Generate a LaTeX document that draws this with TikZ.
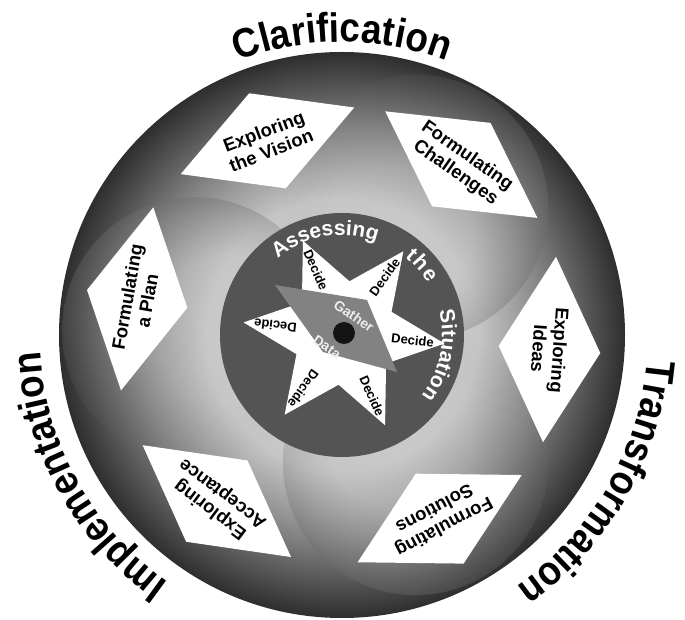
\documentclass[tikz,border=0pt]{standalone}
\usepackage{fontspec}
\setmainfont{Liberation Sans}
\newfontfamily\ringfamily[FakeStretch=0.9]{Liberation Sans}
\usetikzlibrary{decorations.text,shapes.geometric,fadings}
\definecolor{rimdark}{HTML}{2E2E2E}
\definecolor{midgray}{HTML}{858585}
\definecolor{lightgray}{HTML}{C6C6C6}
\definecolor{centergray}{HTML}{D4D4D4}
\definecolor{swirledge}{HTML}{3A3A3A}
\definecolor{hubdark}{HTML}{545454}
\definecolor{gathergray}{HTML}{828282}
\definecolor{gathertext}{HTML}{EEEEEE}
\pgfdeclareradialshading{bigshade}{\pgfpoint{0bp}{0bp}}{color(0bp)=(centergray); color(12bp)=(lightgray); color(18bp)=(midgray); color(25bp)=(rimdark); color(50bp)=(rimdark)}
\pgfdeclareradialshading{swirlshade}{\pgfpoint{9bp}{0bp}}{color(0bp)=(centergray); color(14bp)=(lightgray); color(34bp)=(swirledge); color(50bp)=(swirledge)}
\tikzfading[name=swirlfade, top color=transparent!0, bottom color=transparent!100]
\newcommand{\boxfont}{\bfseries\fontsize{18.5}{20.5}\selectfont}
\newcommand{\decfont}{\bfseries\fontsize{13}{13}\selectfont}
\newcommand{\gatherfont}{\bfseries\fontsize{14}{14}\selectfont}
\newcommand{\hubfont}{\bfseries\fontsize{21}{21}\selectfont}
\newcommand{\ringfont}{\ringfamily\bfseries\fontsize{41}{41}\selectfont}
\tikzset{
  stage/.style={diamond, fill=white, draw=none, minimum width=186pt, minimum height=102pt, shape aspect=1.82, inner sep=0pt, align=center, font=\boxfont, text=black},
  decidelabel/.style={font=\decfont, text=black, inner sep=0pt},
  gatherlabel/.style={font=\gatherfont, text=gathertext, inner sep=0pt},
  swirl/.style={shading=swirlshade, path fading=swirlfade, opacity=0.55},
}
\begin{document}
\begin{tikzpicture}[x=1pt,y=1pt]
\useasboundingbox (-342,-285) rectangle (343,335);
\coordinate (C) at (0,0);
% outer disc
\shade[shading=bigshade] (C) circle (283);
\begin{scope}
  \clip (C) circle (283);
  \shade[swirl, shading angle=0, fading angle=20] (178:147) circle (133);
  \shade[swirl, shading angle=240, fading angle=-100] (60:147) circle (133);
  \shade[swirl, shading angle=120, fading angle=160] (-60:147) circle (133);
\end{scope}
% six stages
\node[stage, rotate=21] (vision) at (111:208) {Exploring\\the Vision};
\node[stage, rotate=-35] (challenges) at (55:208) {Formulating\\Challenges};
\node[stage, rotate=-94] (ideas) at (-4:208) {Exploring\\Ideas};
\node[stage, rotate=-152] (solutions) at (-62:208) {Formulating\\Solutions};
\node[stage, rotate=-217] (acceptance) at (-127:208) {Exploring\\Acceptance};
\node[stage, rotate=80] (plan) at (170:208) {Formulating\\a Plan};
% hub
\fill[hubdark] (C) circle (122);
\begin{scope}[shift={(2,2)}]
  \fill[white] (54:101) -- (84:52) -- (114:101) -- (144:52) -- (174:101) -- (204:52)
    -- (234:101) -- (264:52) -- (294:101) -- (324:52) -- (354:101) -- (24:52) -- cycle;
  \node[decidelabel, rotate=-66] (d1) at (114:69) {Decide};
  \node[decidelabel, rotate=54] (d2) at (54:69) {Decide};
  \node[decidelabel, rotate=-6] (d3) at (-6:69) {Decide};
  \node[decidelabel, rotate=-66] (d4) at (-66:69) {Decide};
  \node[decidelabel, rotate=-126] (d5) at (-126:69) {Decide};
  \node[decidelabel, rotate=174] (d6) at (174:69) {Decide};
\end{scope}
\fill[gathergray] (-67,50) -- (25,35) -- (55,-37) -- (-19,-17) -- cycle;
\node[gatherlabel, rotate=-35] (gather) at (12,19) {Gather};
\node[gatherlabel, rotate=-35] (data) at (-15,-12) {Data};
\fill[black!92] (2,2) circle (11);
% hub title
\path[decorate, decoration={text along path, text={|\hubfont|Assessing}, text color=white, text align={fit to path}}]
  (130:100) arc[start angle=130, end angle=71, radius=100];
\path[decorate, decoration={text along path, text={|\hubfont|the}, text color=white, text align={fit to path}}]
  (51:100) arc[start angle=51, end angle=31, radius=100];
\path[decorate, decoration={text along path, text={|\hubfont|Situation}, text color=white, text align={fit to path}}]
  (14:100) arc[start angle=14, end angle=-36, radius=100];
% ring titles
\path[decorate, decoration={text along path, text={|\ringfont|Clarification}, text align=center}]
  (150:293) arc[start angle=150, end angle=30, radius=293];
\path[decorate, decoration={text along path, text={|\ringfont|Transformation}, text align=center}]
  (15:306) arc[start angle=15, end angle=-75, radius=306];
\path[decorate, decoration={text along path, text={|\ringfont|Implementation}, text align=center}]
  (-106:302) arc[start angle=-106, end angle=-196, radius=302];
\end{tikzpicture}
\end{document}
